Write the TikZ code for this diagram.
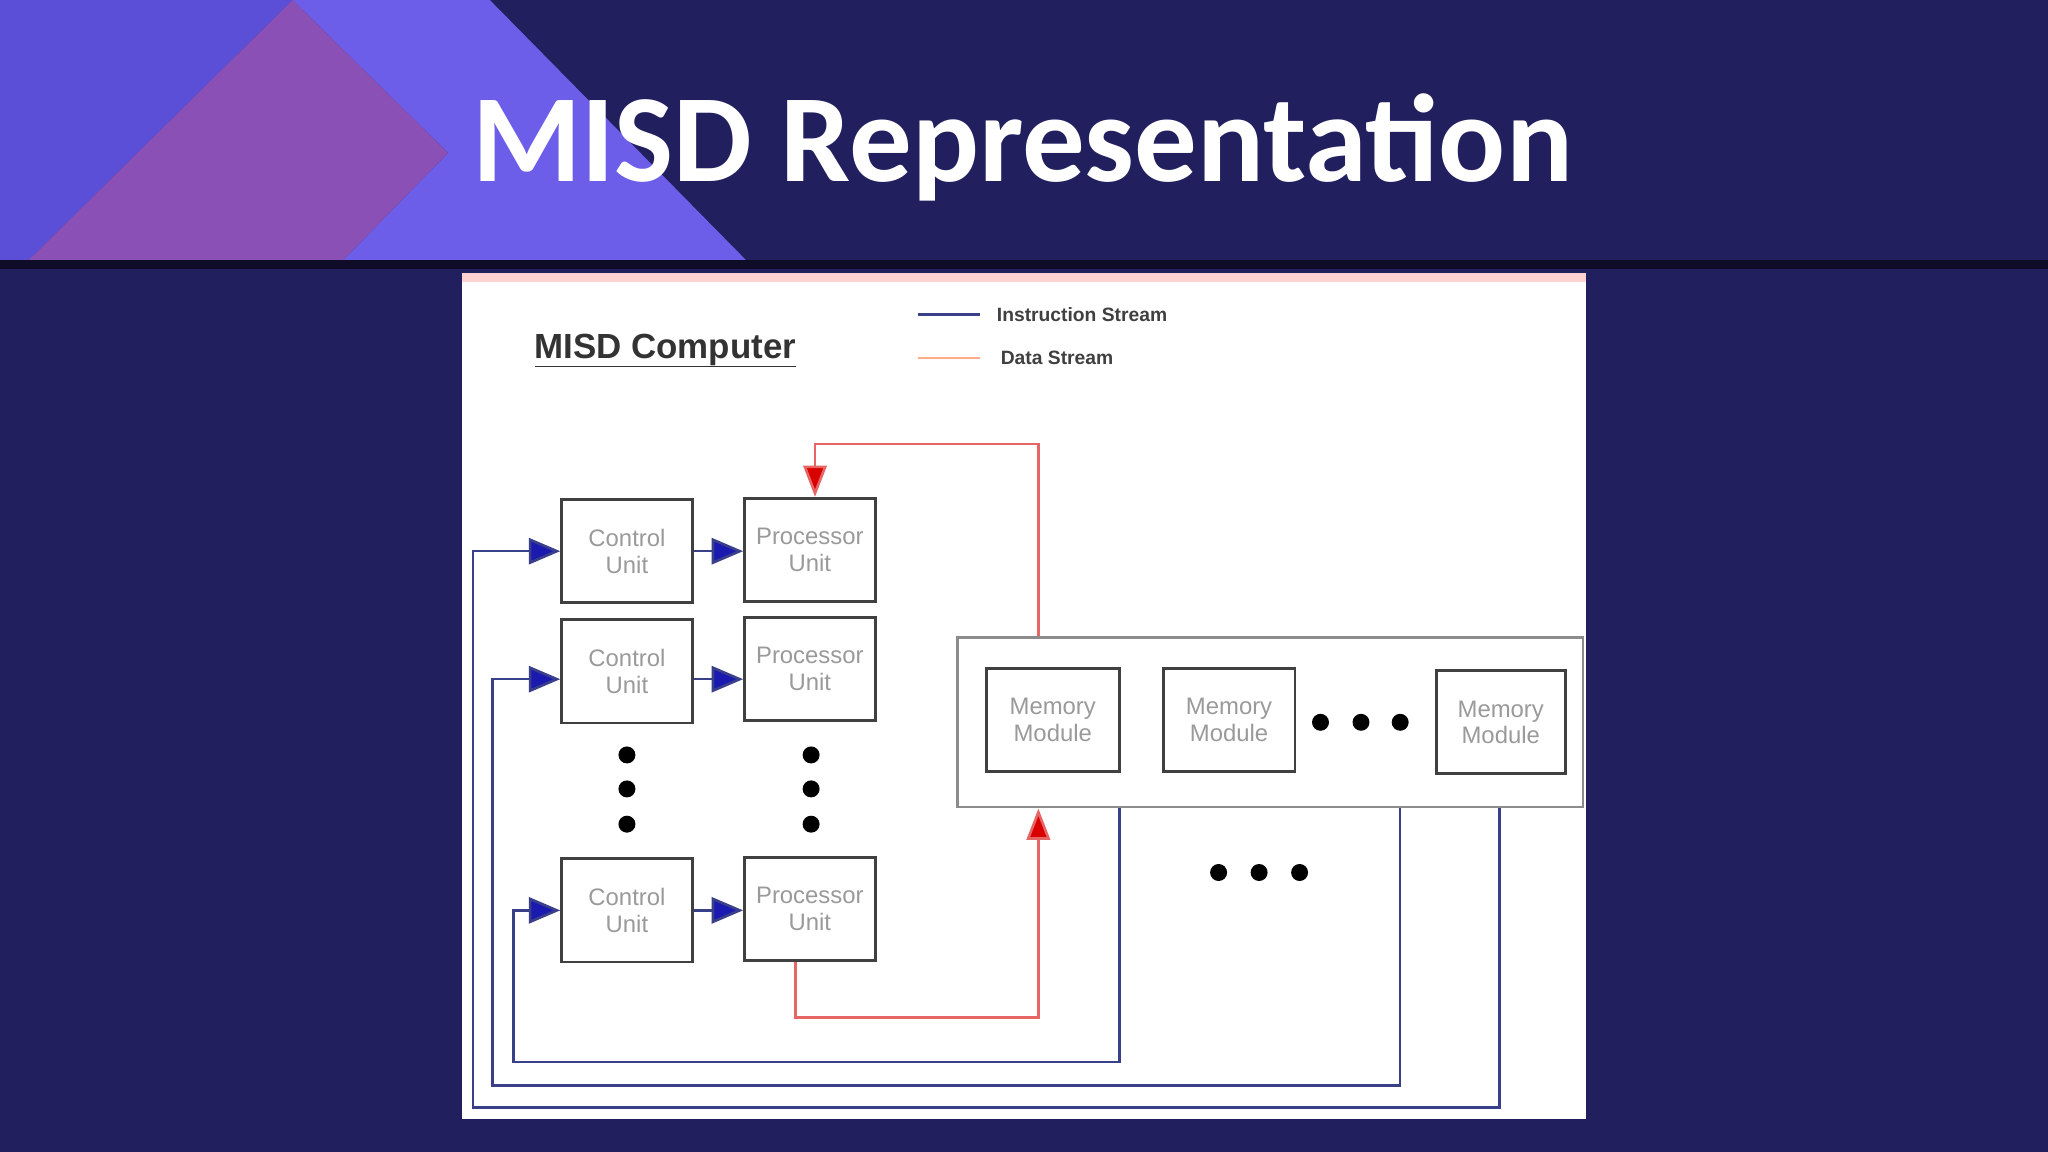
\documentclass[tikz,border=0pt]{standalone}
\usepackage{fontspec}
\setmainfont{Liberation Sans}
\newfontfamily\titlefont{Carlito}
\usetikzlibrary{arrows.meta}
\definecolor{navy}{HTML}{221F5F}
\definecolor{violetA}{HTML}{5B4FD8}
\definecolor{magA}{HTML}{8A50B5}
\definecolor{lightV}{HTML}{6C5EE8}
\definecolor{ibl}{HTML}{1A1AB0}
\definecolor{iline}{HTML}{3A3F8A}
\definecolor{dred}{HTML}{E05050}
\definecolor{gtext}{HTML}{9A9A9A}
\tikzset{
  unitbox/.style={draw=black!75, line width=2.2mm, minimum width=100mm, minimum height=79mm, inner sep=0pt, align=center, text=gtext, font=\fontsize{52}{58}\selectfont},
  bdot/.style={circle, fill=black, minimum size=13mm, inner sep=0pt},
  iarrow/.style={draw=iline, line width=2mm, -{Triangle[length=24mm,width=20mm,fill=ibl]}},
  dflow/.style={draw=dred!80!pink, line width=2mm, -{Triangle[length=24mm,width=18mm,fill=red!85!black]}},
}
\begin{document}
\begin{tikzpicture}[x=1mm,y=-1mm]
\useasboundingbox (0,0) rectangle (1568,882);
\fill[navy] (0,0) rectangle (1568,882);
% decoration
\fill[violetA] (0,0) -- (224,0) -- (20,201) -- (0,201) -- cycle;
\fill[lightV] (224,0) -- (375,0) -- (573,201) -- (261,201) -- (343,117) -- cycle;
\fill[magA] (224,0) -- (343,117) -- (261,201) -- (20,201) -- cycle;
\fill[black!60!navy] (0,199) rectangle (1568,206);
\node[text=white, font=\titlefont\bfseries\fontsize{272}{272}\selectfont, inner sep=0pt] (title) at (783,113) {MISD Representa{}tion};
% panel
\fill[white] (354,209) rectangle (1214,857);
\fill[pink!70] (354,209) rectangle (1214,216);
\node[font=\bfseries\fontsize{76}{80}\selectfont, text=black!80, anchor=west] (mc) at (408,268) {\underline{MISD Computer}};
\coordinate (l1a) at (703,241); \coordinate (l1b) at (750,241);
\coordinate (l2a) at (703,274); \coordinate (l2b) at (750,274);
\draw[iline, line width=2mm] (l1a) -- (l1b);
\draw[orange!30!pink, line width=2mm] (l2a) -- (l2b);
\node[anchor=west, font=\bfseries\fontsize{42}{44}\selectfont, text=black!75] (lt1) at (762,241) {Instruction Stream};
\node[anchor=west, font=\bfseries\fontsize{42}{44}\selectfont, text=black!75] (lt2) at (765,274) {Data Stream};
% units
\node[unitbox] (c1) at (480,422) {Control\\Unit};
\node[unitbox] (c2) at (480,514) {Control\\Unit};
\node[unitbox] (c3) at (480,697) {Control\\Unit};
\node[unitbox] (p1) at (620,421) {Processor\\Unit};
\node[unitbox] (p2) at (620,512) {Processor\\Unit};
\node[unitbox] (p3) at (620,696) {Processor\\Unit};
\coordinate (c2e) at ([yshift=-6mm]c2.east);
\coordinate (c2w) at ([yshift=-6mm]c2.west);
\foreach \y/\n in {578/a,604/b,631/c}{
  \node[bdot] (dc\n) at (480,\y) {};
  \node[bdot] (dp\n) at (621,\y) {};
}
% memory
\node[draw=black!45, line width=2mm, minimum width=479mm, minimum height=130mm, inner sep=0pt] (mem) at (972.5,553) {};
\node[unitbox, minimum width=102mm] (m1) at (806,551) {Memory\\Module};
\node[unitbox, minimum width=101mm] (m2) at (941,551) {Memory\\Module};
\node[unitbox, minimum width=99mm] (m3) at (1149,553) {Memory\\Module};
\foreach \x/\n in {1011/a,1042/b,1072/c}{\node[bdot] (hd\n) at (\x,553) {};}
\foreach \x/\n in {933/a,964/b,995/c}{\node[bdot] (ld\n) at (\x,668) {};}
% control -> processor
\draw[iarrow] (c1.east) -- (p1.west |- c1.east);
\draw[iarrow] (c2e) -- (p2.west |- c2e);
\draw[iarrow] (c3.east) -- (p3.west |- c3.east);
% data streams
\draw[dflow] (mem.north -| 795,0) |- (624,340) -- (p1.north -| 624,0);
\draw[dflow] (p3.south -| 609,0) |- (795,779) -- (mem.south -| 795,0);
% instruction feedback
\draw[iarrow] (mem.south -| 857,0) |- (393,813) |- (c3.west);
\draw[iarrow] (mem.south -| 1072,0) |- (377,831) |- (c2w);
\draw[iarrow] (mem.south -| 1148,0) |- (362,848) |- (c1.west);
\end{tikzpicture}
\end{document}
